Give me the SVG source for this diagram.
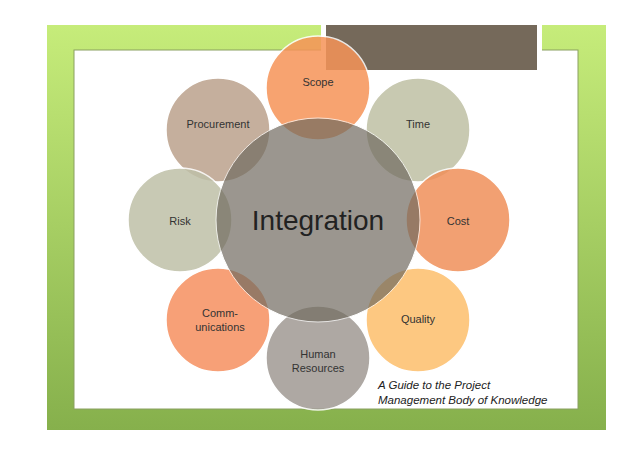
<svg xmlns="http://www.w3.org/2000/svg" width="638" height="451" viewBox="0 0 638 451">
<defs>
<linearGradient id="g" x1="0" y1="0" x2="0" y2="1"><stop offset="0" stop-color="#c6ec7a"/><stop offset="1" stop-color="#86b04c"/></linearGradient>
</defs>
<style>
.c{stroke:#fff;stroke-width:1.5;opacity:0.85}
.t{font-family:"Liberation Sans",Arial,sans-serif;font-size:11px;fill:#333;text-anchor:middle}
</style>
<rect width="638" height="451" fill="#fff"/>
<rect x="47" y="25" width="559" height="405" fill="url(#g)"/>
<rect x="74" y="50" width="504" height="359" fill="#fff" stroke="#8aa060" stroke-width="1"/>
<rect x="321" y="21" width="221" height="54" fill="#fff"/>
<rect x="326" y="25" width="211" height="45" fill="#75695a"/>
<g id="procurement"><circle class="c" cx="218" cy="130" r="52" fill="#bca28c"/><text class="t" x="218" y="128">Procurement</text></g>
<g id="time"><circle class="c" cx="418" cy="130" r="52" fill="#bfc0a4"/><text class="t" x="418" y="128">Time</text></g>
<g id="risk"><circle class="c" cx="180" cy="220" r="52" fill="#bfc0a8"/><text class="t" x="180" y="225">Risk</text></g>
<g id="cost"><circle class="c" cx="458" cy="220" r="52" fill="#f0905a"/><text class="t" x="458" y="225">Cost</text></g>
<g id="communications"><circle class="c" cx="218" cy="320" r="52" fill="#f69060"/><text class="t" x="220" y="317">Comm-</text><text class="t" x="220" y="331">unications</text></g>
<g id="quality"><circle class="c" cx="418" cy="320" r="52" fill="#fdbf6c"/><text class="t" x="418" y="323">Quality</text></g>
<g id="scope"><circle class="c" cx="318" cy="88" r="52" fill="#f69458" opacity="0.8"/><text class="t" x="318" y="86">Scope</text></g>
<g id="human-resources"><circle class="c" cx="318" cy="358" r="52" fill="#a09a94"/><text class="t" x="318" y="358">Human</text><text class="t" x="318" y="372">Resources</text></g>
<g id="integration"><circle cx="318" cy="220" r="102" fill="#716b60" opacity="0.7" stroke="#fff" stroke-width="1"/><text x="318" y="230" font-family="Liberation Sans,Arial,sans-serif" font-size="28" fill="#222" text-anchor="middle">Integration</text></g>
<g id="connectors"/>
<text x="378" y="389" font-family="Liberation Sans,Arial,sans-serif" font-size="11.5" font-style="italic" fill="#222">A Guide to the Project</text>
<text x="378" y="404" font-family="Liberation Sans,Arial,sans-serif" font-size="11.5" font-style="italic" fill="#222">Management Body of Knowledge</text>
</svg>
